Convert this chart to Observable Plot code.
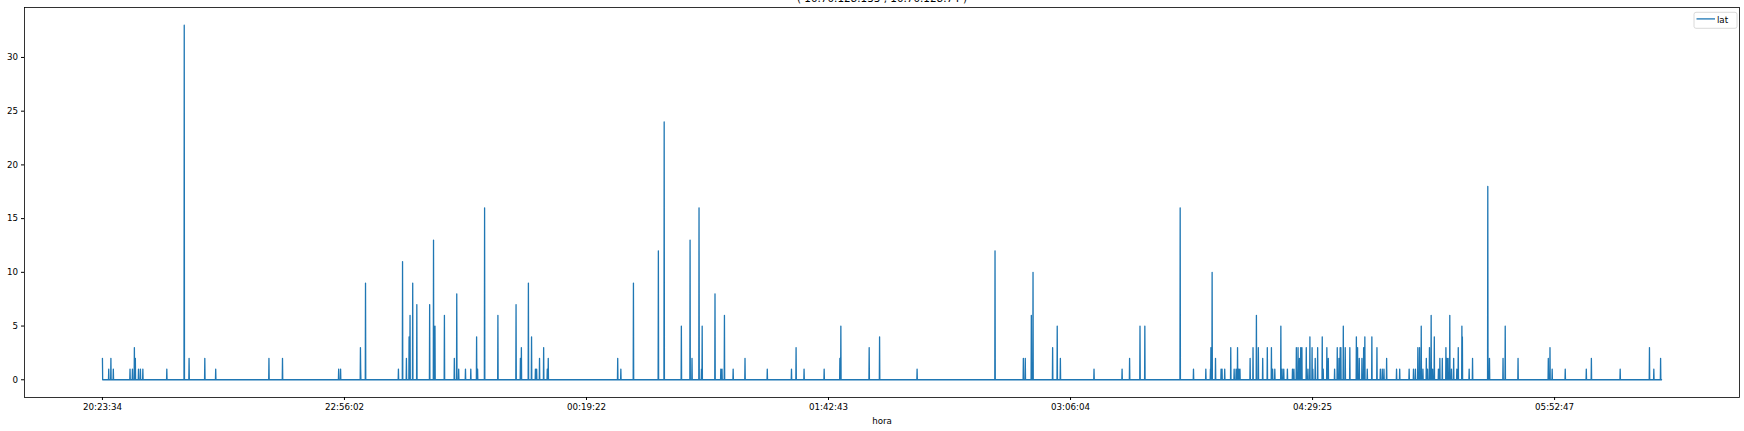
<!DOCTYPE html>
<html>
<head>
<meta charset="utf-8">
<script src="https://cdn.jsdelivr.net/npm/d3@7"></script>
<script src="https://cdn.jsdelivr.net/npm/@observablehq/plot@0.6"></script>
<style>
html, body { margin: 0; padding: 0; background: #fff; }
#chart { position: relative; width: 1744px; height: 431px; overflow: hidden; }
</style>
</head>
<body>
<div id="chart"></div>
<script>
const title = "( 10.70.128.133 , 10.70.128.74 )";
const seriesName = "lat";
const xLabel = "hora";
const sampleCount = 6443;
const tickIndex = [0, 1000, 2000, 3000, 4000, 5000, 6000];
const tickLabels = ["20:23:34", "22:56:02", "00:19:22", "01:42:43", "03:06:04", "04:29:25", "05:52:47"];
const yTicks = [0, 5, 10, 15, 20, 25, 30];

// sample index of each non-zero latency reading
const spikeIdx = [
  0, 26, 35, 45, 114, 124, 132, 136, 149, 157, 167, 266, 338, 358, 423, 468, 688, 744, 976, 984, 1066, 1067, 1087,
  1223, 1240, 1256, 1267, 1271, 1282, 1299, 1352, 1368, 1374, 1413, 1454, 1464, 1472, 1500, 1522, 1546, 1550, 1579, 1634,
  1709, 1727, 1731, 1760, 1773, 1789, 1794, 1806, 1823, 1838, 1842, 2129, 2142, 2194,
  2297, 2321, 2392, 2428, 2436, 2465, 2475, 2478, 2531, 2555, 2560, 2570, 2606, 2655, 2747, 2847, 2866, 2899, 2982,
  3047, 3051, 3168, 3211, 3366,
  3688, 3805, 3813, 3838, 3845, 3926, 3945, 3958, 4097, 4213, 4244, 4287, 4307, 4453, 4508, 4559, 4578, 4580, 4585,
  4599, 4622, 4626, 4637, 4662, 4676, 4684, 4690, 4695, 4700, 4742, 4754, 4768, 4776, 4794, 4813, 4830, 4835, 4844,
  4869, 4874, 4881, 4896, 4917, 4923, 4933, 4940, 4946, 4951, 4956, 4974, 4981, 4989, 4998, 5001, 5011, 5021, 5040,
  5044, 5059, 5065, 5091, 5102, 5109, 5114, 5117, 5127, 5135, 5154, 5181, 5186, 5193, 5204, 5211, 5216, 5226, 5245,
  5266, 5280, 5288, 5295, 5306, 5347, 5360, 5399, 5417, 5425, 5435, 5442, 5449, 5456, 5470, 5475, 5483, 5490, 5496,
  5503, 5520, 5526, 5536,
  5551, 5555, 5560, 5567, 5574, 5583, 5596, 5602, 5617, 5619, 5647, 5661, 5724, 5731, 5787, 5796, 5849, 5974, 5981,
  5990, 6044, 6131, 6152, 6271, 6392, 6410, 6438
];
// latency value at each of those samples
const spikeVal = [
  2, 1, 2, 1, 1, 1, 3, 2, 1, 1, 1, 1, 33, 2, 2, 1, 2, 2, 1, 1, 3, 1, 9,
  1, 11, 2, 4, 6, 9, 7, 7, 13, 5, 6, 2, 8, 1, 1, 1, 4, 1, 16, 6,
  7, 2, 3, 9, 4, 1, 1, 2, 3, 1, 2, 2, 1, 9,
  12, 24, 5, 13, 2, 16, 1, 5, 8, 1, 1, 6, 1, 2, 1, 1, 3, 1, 1,
  2, 5, 3, 4, 1,
  12, 2, 2, 6, 10, 3, 5, 2, 1, 1, 2, 5, 5, 16, 1, 1, 1, 3, 10,
  2, 1, 1, 1, 3, 1, 1, 3, 1, 1, 2, 3, 6, 3, 2, 3, 3, 1, 1,
  5, 1, 1, 1, 1, 1, 3, 3, 2, 3, 3, 3, 1, 4, 3, 1, 2, 3, 4,
  1, 3, 2, 1, 3, 2, 3, 3, 5, 3, 3, 4, 3, 2, 2, 3, 4, 1, 4,
  3, 1, 1, 1, 2, 1, 1, 1, 1, 1, 3, 3, 5, 1, 2, 1, 3, 6, 1,
  4, 1, 2, 2,
  3, 2, 2, 6, 1, 2, 1, 3, 5, 4, 1, 2, 18, 2, 2, 5, 2, 2, 3,
  1, 1, 1, 2, 1, 3, 1, 2
];

const lat = new Array(sampleCount).fill(0);
spikeIdx.forEach((idx, k) => { lat[idx] = spikeVal[k]; });
const rows = lat.map((v, i) => ({i, v}));

const FONT = "DejaVu Sans, sans-serif";
const BLUE = "#1f77b4";

const chart = Plot.plot({
  width: 1744,
  height: 431,
  marginLeft: 24,
  marginRight: 5,
  marginTop: 7,
  marginBottom: 34,
  style: {fontFamily: FONT, fontSize: "8.7px", color: "#000", background: "#fff", overflow: "visible"},
  x: {type: "linear", domain: [-322, 6764]},
  y: {type: "linear", domain: [-1.65, 34.65]},
  marks: [
    Plot.line(rows, {x: "i", y: "v", stroke: BLUE, strokeWidth: 1.3}),
    Plot.frame({stroke: "#000", strokeWidth: 0.8}),
    Plot.axisX({ticks: tickIndex, tickFormat: d => tickLabels[tickIndex.indexOf(d)], tickSize: 3, tickPadding: 3.5, label: null, stroke: "#000", strokeOpacity: 1, fill: "#000"}),
    Plot.axisY({ticks: yTicks, tickSize: 3, tickPadding: 3.5, label: null, stroke: "#000", strokeOpacity: 1, fill: "#000"}),
    Plot.text([xLabel], {frameAnchor: "bottom", dy: 23.5, lineAnchor: "middle", fontSize: 8.7, fill: "#000"}),
    Plot.text([title], {frameAnchor: "top", dy: -5.5, lineAnchor: "bottom", fontSize: 10.4, fill: "#000"})
  ]
});

document.getElementById("chart").appendChild(chart);

// legend (matplotlib-style box in the upper right)
const svg = d3.select(chart);
const lg = svg.append("g").attr("font-family", FONT);
lg.append("rect").attr("x", 1694).attr("y", 12.3).attr("width", 43).attr("height", 16)
  .attr("rx", 2).attr("fill", "#fff").attr("fill-opacity", 0.8).attr("stroke", "#d0d0d0").attr("stroke-width", 0.8);
lg.append("line").attr("x1", 1696.5).attr("x2", 1715).attr("y1", 18.9).attr("y2", 18.9)
  .attr("stroke", BLUE).attr("stroke-width", 1.3);
lg.append("text").attr("x", 1722.5).attr("y", 22.6).attr("font-size", 8.7).attr("fill", "#000").text(seriesName);
</script>
</body>
</html>
